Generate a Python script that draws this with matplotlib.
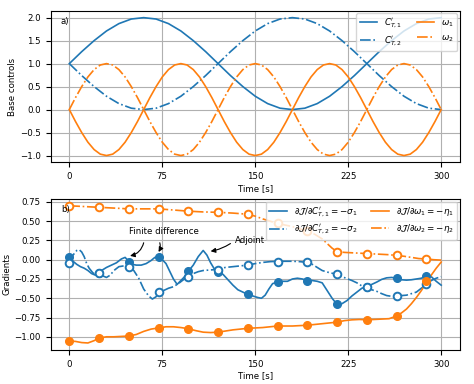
import matplotlib
matplotlib.use("Agg")
import matplotlib.pyplot as plt

# ---- base controls ----
t_c = [0, 10, 20, 30, 40, 50, 60, 70, 80, 90, 100, 110, 120, 130, 140, 150,
       160, 170, 180, 190, 200, 210, 220, 230, 240, 250, 260, 270, 280, 290, 300]
ct1 = [1.0, 1.26, 1.5, 1.71, 1.87, 1.97, 2.0, 1.97, 1.87, 1.71, 1.5, 1.26, 1.0,
       0.74, 0.5, 0.29, 0.13, 0.03, 0.0, 0.03, 0.13, 0.29, 0.5, 0.74, 1.0, 1.26,
       1.5, 1.71, 1.87, 1.97, 2.0]
ct2 = [1.0, 0.74, 0.5, 0.29, 0.13, 0.03, 0.0, 0.03, 0.13, 0.29, 0.5, 0.74, 1.0,
       1.26, 1.5, 1.71, 1.87, 1.97, 2.0, 1.97, 1.87, 1.71, 1.5, 1.26, 1.0, 0.74,
       0.5, 0.29, 0.13, 0.03, 0.0]

t_w = list(range(0, 301, 5))
w1 = [0, -.26, -.5, -.71, -.87, -.97, -1, -.97, -.87, -.71, -.5, -.26,
      0, .26, .5, .71, .87, .97, 1, .97, .87, .71, .5, .26,
      0, -.26, -.5, -.71, -.87, -.97, -1, -.97, -.87, -.71, -.5, -.26,
      0, .26, .5, .71, .87, .97, 1, .97, .87, .71, .5, .26,
      0, -.26, -.5, -.71, -.87, -.97, -1, -.97, -.87, -.71, -.5, -.26, 0]
w2 = [0, .26, .5, .71, .87, .97, 1, .97, .87, .71, .5, .26,
      0, -.26, -.5, -.71, -.87, -.97, -1, -.97, -.87, -.71, -.5, -.26,
      0, .26, .5, .71, .87, .97, 1, .97, .87, .71, .5, .26,
      0, -.26, -.5, -.71, -.87, -.97, -1, -.97, -.87, -.71, -.5, -.26,
      0, .26, .5, .71, .87, .97, 1, .97, .87, .71, .5, .26, 0]

# ---- adjoint gradients ----
t_s1 = [0, 3, 6, 9, 12, 15, 18, 21, 24, 27, 30, 34, 38, 42, 45, 48, 51, 54, 58,
        62, 66, 69, 72, 75, 78, 81, 84, 87, 90, 93, 96, 100, 104, 108, 111, 114,
        117, 120, 124, 128, 132, 136, 140, 144, 148, 152, 155, 158, 161, 164,
        168, 172, 176, 180, 184, 188, 192, 196, 200, 204, 208, 212, 216, 220,
        224, 228, 232, 236, 240, 244, 248, 252, 256, 260, 264, 268, 272, 276,
        280, 284, 288, 292, 296, 300]
s1 = [0.03, -0.02, -0.06, -0.09, -0.11, -0.14, -0.18, -0.20, -0.17, -0.13,
      -0.10, -0.07, -0.04, 0.01, 0.03, -0.02, -0.06, -0.07, -0.07, -0.05,
      -0.01, 0.03, 0.03, 0.00, -0.05, -0.15, -0.25, -0.32, -0.27, -0.22,
      -0.15, -0.07, 0.04, 0.12, 0.06, -0.04, -0.12, -0.16, -0.19, -0.26,
      -0.33, -0.39, -0.42, -0.45, -0.47, -0.49, -0.50, -0.46, -0.38, -0.31,
      -0.29, -0.28, -0.28, -0.25, -0.24, -0.25, -0.27, -0.27, -0.28, -0.30,
      -0.40, -0.50, -0.58, -0.57, -0.53, -0.47, -0.42, -0.37, -0.35, -0.32,
      -0.29, -0.255, -0.235, -0.23, -0.24, -0.26, -0.265, -0.26, -0.25,
      -0.24, -0.21, -0.22, -0.28, -0.33]

t_s2 = [0, 3, 6, 8, 10, 12, 14, 16, 19, 22, 24, 27, 30, 33, 36, 40, 44, 48, 52,
        56, 60, 64, 67, 70, 72, 76, 80, 84, 88, 92, 96, 100, 104, 108, 112,
        116, 120, 126, 132, 138, 144, 150, 156, 162, 168, 174, 180, 186, 192,
        196, 200, 204, 208, 212, 216, 220, 224, 228, 232, 236, 240, 244, 248,
        252, 256, 260, 264, 268, 272, 276, 280, 284, 288, 292, 296, 300]
s2 = [-0.04, 0.06, 0.12, 0.13, 0.10, 0.04, -0.05, -0.11, -0.17, -0.20, -0.18,
      -0.21, -0.23, -0.20, -0.14, -0.09, -0.08, -0.09, -0.14, -0.24, -0.38,
      -0.47, -0.51, -0.48, -0.43, -0.40, -0.37, -0.35, -0.31, -0.26, -0.22,
      -0.18, -0.155, -0.14, -0.135, -0.13, -0.12, -0.10, -0.09, -0.08, -0.07,
      -0.05, -0.035, -0.025, -0.02, -0.02, -0.02, -0.025, -0.035, -0.06,
      -0.10, -0.14, -0.16, -0.175, -0.19, -0.22, -0.245, -0.27, -0.30, -0.34,
      -0.36, -0.39, -0.41, -0.44, -0.465, -0.475, -0.47, -0.465, -0.46,
      -0.44, -0.42, -0.37, -0.32, -0.27, -0.24, -0.22]

t_e1 = [0, 5, 10, 15, 20, 24, 30, 36, 42, 48, 54, 60, 66, 72, 78, 84, 90, 96,
        102, 108, 114, 120, 126, 132, 138, 144, 150, 156, 162, 168, 174, 180,
        186, 192, 198, 204, 210, 216, 222, 228, 234, 240, 246, 252, 258, 264,
        268, 272, 276, 280, 284, 288, 292, 296, 300]
e1 = [-1.055, -1.06, -1.075, -1.08, -1.05, -1.015, -1.00, -1.00, -0.995,
      -0.99, -0.97, -0.93, -0.90, -0.885, -0.87, -0.87, -0.88, -0.895, -0.92,
      -0.94, -0.945, -0.94, -0.925, -0.91, -0.90, -0.89, -0.885, -0.88,
      -0.87, -0.86, -0.86, -0.86, -0.855, -0.85, -0.84, -0.83, -0.82, -0.81,
      -0.79, -0.78, -0.775, -0.78, -0.775, -0.77, -0.765, -0.73, -0.69,
      -0.64, -0.57, -0.49, -0.40, -0.30, -0.20, -0.11, -0.03]

t_e2 = [0, 12, 24, 36, 48, 60, 72, 84, 96, 108, 120, 132, 144, 150, 156, 162,
        168, 174, 180, 186, 192, 198, 204, 208, 212, 216, 222, 228, 234, 240,
        246, 252, 258, 264, 270, 276, 282, 288, 294, 300]
e2 = [0.70, 0.69, 0.68, 0.67, 0.66, 0.66, 0.66, 0.645, 0.63, 0.62, 0.615,
      0.605, 0.59, 0.565, 0.53, 0.50, 0.47, 0.45, 0.43, 0.40, 0.37, 0.33, 0.27,
      0.21, 0.15, 0.105, 0.095, 0.09, 0.085, 0.08, 0.075, 0.07, 0.065, 0.055,
      0.045, 0.03, 0.015, 0.01, 0.0, -0.005]

# ---- finite difference checks ----
t_fd = [0, 24, 48, 72, 96, 120, 144, 168, 192, 216, 240, 264, 288]
s1_fd = [0.03, -0.17, -0.03, 0.03, -0.15, -0.16, -0.45, -0.29, -0.27, -0.58,
         -0.36, -0.24, -0.21]
s2_fd = [-0.04, -0.17, -0.095, -0.42, -0.22, -0.13, -0.07, -0.026, -0.034,
         -0.19, -0.36, -0.47, -0.32]
e1_fd = [-1.057, -1.01, -0.99, -0.89, -0.895, -0.94, -0.89, -0.86, -0.85,
         -0.81, -0.78, -0.73, -0.28]
e2_fd = [0.70, 0.68, 0.66, 0.66, 0.63, 0.615, 0.59, 0.47, 0.37, 0.10, 0.08,
         0.055, 0.01]

blue = "#1f77b4"
orange = "#ff7f0e"
plt.rcParams["font.size"] = 6.2
lw = 1.2

fig = plt.figure(figsize=(4.74, 3.84), dpi=100)
ax1 = fig.add_axes([0.107, 0.577, 0.863, 0.395])
ax2 = fig.add_axes([0.107, 0.089, 0.863, 0.393])

# a) base controls
ax1.plot(t_c, ct1, "-", color=blue, lw=lw, label=r"$C^{\prime}_{T,1}$")
ax1.plot(t_c, ct2, "-.", color=blue, lw=lw, label=r"$C^{\prime}_{T,2}$")
ax1.plot(t_w, w1, "-", color=orange, lw=lw, label=r"$\omega_1$")
ax1.plot(t_w, w2, "-.", color=orange, lw=lw, label=r"$\omega_2$")
ax1.set_xticks([0, 75, 150, 225, 300])
ax1.set_yticks([-1.0, -0.5, 0.0, 0.5, 1.0, 1.5, 2.0])
ax1.set_xlabel("Time [s]", labelpad=2)
ax1.set_ylabel("Base controls", labelpad=2)
ax1.grid(True)
ax1.legend(loc="upper right", ncol=2, fontsize=6.3, borderaxespad=0.3,
           columnspacing=1.6)
ax1.text(0.025, 0.93, "a)", transform=ax1.transAxes, ha="left", va="center")

# b) gradients
ax2.plot(t_s1, s1, "-", color=blue, lw=lw,
         label=r"$\partial\mathcal{J}/\partial C^{\prime}_{T,1} = -\sigma_1$")
ax2.plot(t_s2, s2, "-.", color=blue, lw=lw,
         label=r"$\partial\mathcal{J}/\partial C^{\prime}_{T,2} = -\sigma_2$")
ax2.plot(t_e1, e1, "-", color=orange, lw=lw,
         label=r"$\partial\mathcal{J}/\partial \omega_1 = -\eta_1$")
ax2.plot(t_e2, e2, "-.", color=orange, lw=lw,
         label=r"$\partial\mathcal{J}/\partial \omega_2 = -\eta_2$")

ms = 5.5
ax2.plot(t_fd, s1_fd, "o", color=blue, ms=ms)
ax2.plot(t_fd, s2_fd, "o", color=blue, mfc="white", mew=1.4, ms=ms)
ax2.plot(t_fd, e1_fd, "o", color=orange, ms=ms)
ax2.plot(t_fd, e2_fd, "o", color=orange, mfc="white", mew=1.4, ms=ms)

ax2.set_xticks([0, 75, 150, 225, 300])
ax2.set_yticks([-1.0, -0.75, -0.5, -0.25, 0.0, 0.25, 0.5, 0.75])
ax2.set_yticklabels(["−1.00", "−0.75", "−0.50", "−0.25", "0.00", "0.25",
                     "0.50", "0.75"])
ax2.set_xlabel("Time [s]", labelpad=2)
ax2.set_ylabel("Gradients", labelpad=2)
ax2.grid(True)
ax2.legend(loc="upper right", ncol=2, fontsize=6.3, borderaxespad=0.3,
           columnspacing=1.6)
ax2.text(0.025, 0.93, "b)", transform=ax2.transAxes, ha="left", va="center")

# annotations
ax2.text(76, 0.36, "Finite difference", ha="center", va="center")
arrow = dict(arrowstyle="-|>", color="black", lw=0.8, mutation_scale=7,
             shrinkA=0, shrinkB=0)
ax2.annotate("", xy=(49, 0.05), xytext=(60, 0.22),
             arrowprops=dict(arrow, connectionstyle="arc3,rad=-0.3"))
ax2.annotate("", xy=(72, 0.10), xytext=(73, 0.22),
             arrowprops=dict(arrow, connectionstyle="arc3,rad=-0.2"))
ax2.text(146, 0.25, "Adjoint", ha="center", va="center")
ax2.annotate("", xy=(114, 0.11), xytext=(130, 0.21),
             arrowprops=dict(arrow, connectionstyle="arc3,rad=-0.1"))

fig.savefig("out.png", dpi=100)
